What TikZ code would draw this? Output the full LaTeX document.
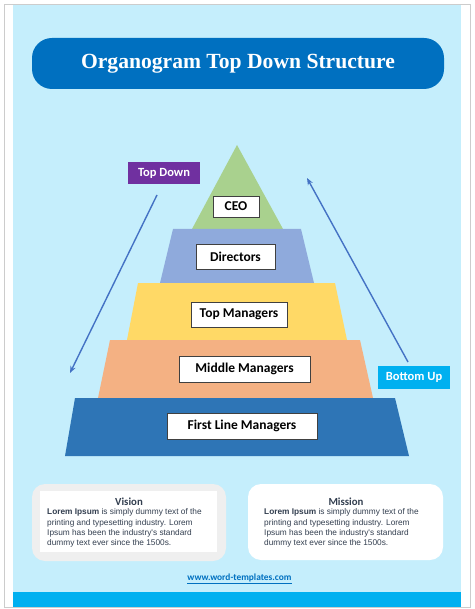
\documentclass[tikz,border=0pt]{standalone}
\usepackage{fontspec}
\setmainfont{Liberation Serif}
\newfontfamily\labfont{Carlito}
\newfontfamily\arialfont{Liberation Sans}
\usetikzlibrary{arrows.meta}
\definecolor{bgblue}{HTML}{C5EEFC}
\definecolor{titleblue}{HTML}{0070C0}
\definecolor{tgreen}{HTML}{A9D18E}
\definecolor{tdir}{HTML}{8FAADC}
\definecolor{tyellow}{HTML}{FFD966}
\definecolor{torange}{HTML}{F4B183}
\definecolor{tblue}{HTML}{2E75B6}
\definecolor{arrowblue}{HTML}{4472C4}
\definecolor{tdpurple}{HTML}{7030A0}
\definecolor{bucyan}{HTML}{00B0F0}
\definecolor{txtdark}{HTML}{333F50}
\definecolor{boxgrey}{HTML}{EFEFEF}
\tikzset{
  labelbox/.style={draw=black!75, line width=0.8pt, fill=white, inner sep=0pt, font=\labfont\bfseries\fontsize{13.5}{15}\selectfont},
  tagbox/.style={inner sep=0pt, text=white, font=\labfont\bfseries\fontsize{12.5}{14}\selectfont},
  dirarrow/.style={draw=arrowblue, line width=1.4pt, -{Stealth[length=7pt,width=5.5pt]}},
  bodytext/.style={anchor=north west, align=left, inner sep=0pt, text=txtdark, font=\arialfont\fontsize{8.3}{10.3}\selectfont},
  headtext/.style={inner sep=0pt, text=txtdark, font=\labfont\bfseries\fontsize{10.8}{12}\selectfont}
}
\begin{document}
\begin{tikzpicture}[x=1pt,y=-1pt]
\useasboundingbox (0,0) rectangle (474,609);
\fill[white] (0,0) rectangle (474,609);
\draw[black!20, line width=0.8pt, fill=white] (4,4) rectangle (470,607);
\fill[bgblue] (13,5) rectangle (461,606.5);
\fill[bucyan] (13,592) rectangle (461,606.5);
% title
\node[fill=titleblue, rounded corners=20pt, minimum width=412pt, minimum height=51pt, inner sep=0pt,
  text=white, font=\bfseries\fontsize{21.6}{24}\selectfont] (title) at (238,63.5) {Organogram Top Down Structure};
% pyramid
\fill[tgreen] (237,145) -- (283,229) -- (192,229) -- cycle;
\fill[tdir] (173,229) -- (301,229) -- (314,283) -- (160,283) -- cycle;
\fill[tyellow] (138,283) -- (335,283) -- (347,340) -- (127,340) -- cycle;
\fill[torange] (110,340) -- (360,340) -- (373,398) -- (98,398) -- cycle;
\fill[tblue] (75,398) -- (395,398) -- (409,456) -- (65,456) -- cycle;
% labels
\node[labelbox, minimum width=46pt, minimum height=21pt] (ceo) at (236,206.5) {CEO};
\node[labelbox, minimum width=79pt, minimum height=25pt] (dir) at (235.5,256.5) {Directors};
\node[labelbox, minimum width=96pt, minimum height=25pt] (topm) at (239,314.5) {Top Managers};
\node[labelbox, minimum width=131pt, minimum height=26pt] (midm) at (244.5,369) {Middle Managers};
\node[labelbox, minimum width=150pt, minimum height=26pt] (firstm) at (242,426) {First Line Managers};
% tags
\node[tagbox, fill=tdpurple, minimum width=72pt, minimum height=22pt] (td) at (164,173) {Top Down};
\node[tagbox, fill=bucyan, minimum width=72pt, minimum height=23pt] (bu) at (414,377.5) {Bottom Up};
% arrows
\coordinate (tdstart) at (157,195);
\coordinate (tdend) at (70,373);
\coordinate (bustart) at (408,362);
\coordinate (buend) at (307,178);
\draw[dirarrow] (tdstart) -- (tdend);
\draw[dirarrow] (bustart) -- (buend);
% vision / mission
\node[fill=boxgrey, rounded corners=13pt, minimum width=194pt, minimum height=77pt, inner sep=0pt] (vis) at (129,522.5) {};
\fill[white] (40,491) rectangle (217,552);
\node[fill=white, rounded corners=13pt, minimum width=195pt, minimum height=76pt, inner sep=0pt] (mis) at (345.5,522) {};
\node[headtext] (vish) at (129,501.5) {Vision};
\node[headtext] (mish) at (346,501.5) {Mission};
\node[bodytext] (visb) at (47,508.5) {\textbf{Lorem Ipsum} is simply dummy text of the\\printing and typesetting industry. Lorem\\Ipsum has been the industry's standard\\dummy text ever since the 1500s.};
\node[bodytext] (misb) at (264,508.5) {\textbf{Lorem Ipsum} is simply dummy text of the\\printing and typesetting industry. Lorem\\Ipsum has been the industry's standard\\dummy text ever since the 1500s.};
% url
\node[inner sep=0pt, text=titleblue, font=\labfont\bfseries\fontsize{9.4}{11}\selectfont] (url) at (239.5,578.5) {\underline{www.word-templates.com}};
\end{tikzpicture}
\end{document}
